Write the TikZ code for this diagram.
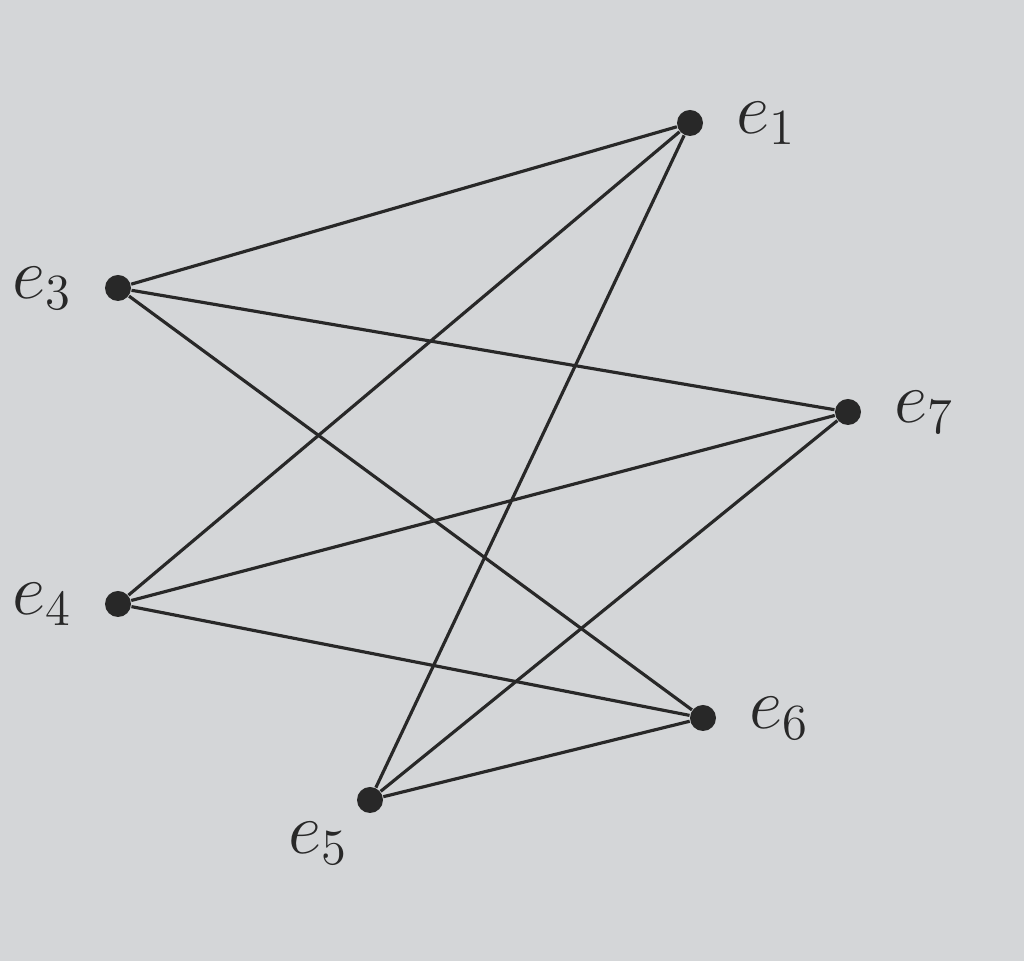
\documentclass[tikz,border=0pt]{standalone}
\usepackage{amsmath}
\usepackage{tikz}
\definecolor{paper}{RGB}{212,214,216}
\definecolor{ink}{RGB}{40,40,40}

\begin{document}
\begin{tikzpicture}[
		vertex/.style={circle,fill=ink,inner sep=0pt,minimum size=0.26cm},
		lbl/.style={text=ink,font=\fontsize{21}{25}\selectfont,label distance=0.2cm},
		edge/.style={draw=ink,line width=0.9pt}
	]
		\fill[paper] (0,0) rectangle (10.24,9.61);
		\useasboundingbox (0,0) rectangle (10.24,9.61);
		% left side
		\node[vertex,label={[lbl]left:$e_3$}] (e3) at (1.18,6.73) {};
		\node[vertex,label={[lbl]left:$e_4$}] (e4) at (1.18,3.57) {};
		\node[vertex,label={[lbl,label distance=0cm]below left:$e_5$}] (e5) at (3.70,1.61) {};
		% right side
		\node[vertex,label={[lbl]right:$e_1$}] (e1) at (6.90,8.38) {};
		\node[vertex,label={[lbl]right:$e_7$}] (e7) at (8.48,5.49) {};
		\node[vertex,label={[lbl]right:$e_6$}] (e6) at (7.03,2.43) {};
		% edges
		\draw[edge] (e3) -- (e1);
		\draw[edge] (e3) -- (e7);
		\draw[edge] (e3) -- (e6);
		\draw[edge] (e4) -- (e1);
		\draw[edge] (e4) -- (e7);
		\draw[edge] (e4) -- (e6);
		\draw[edge] (e5) -- (e1);
		\draw[edge] (e5) -- (e7);
		\draw[edge] (e5) -- (e6);
		\end{tikzpicture}
\end{document}
